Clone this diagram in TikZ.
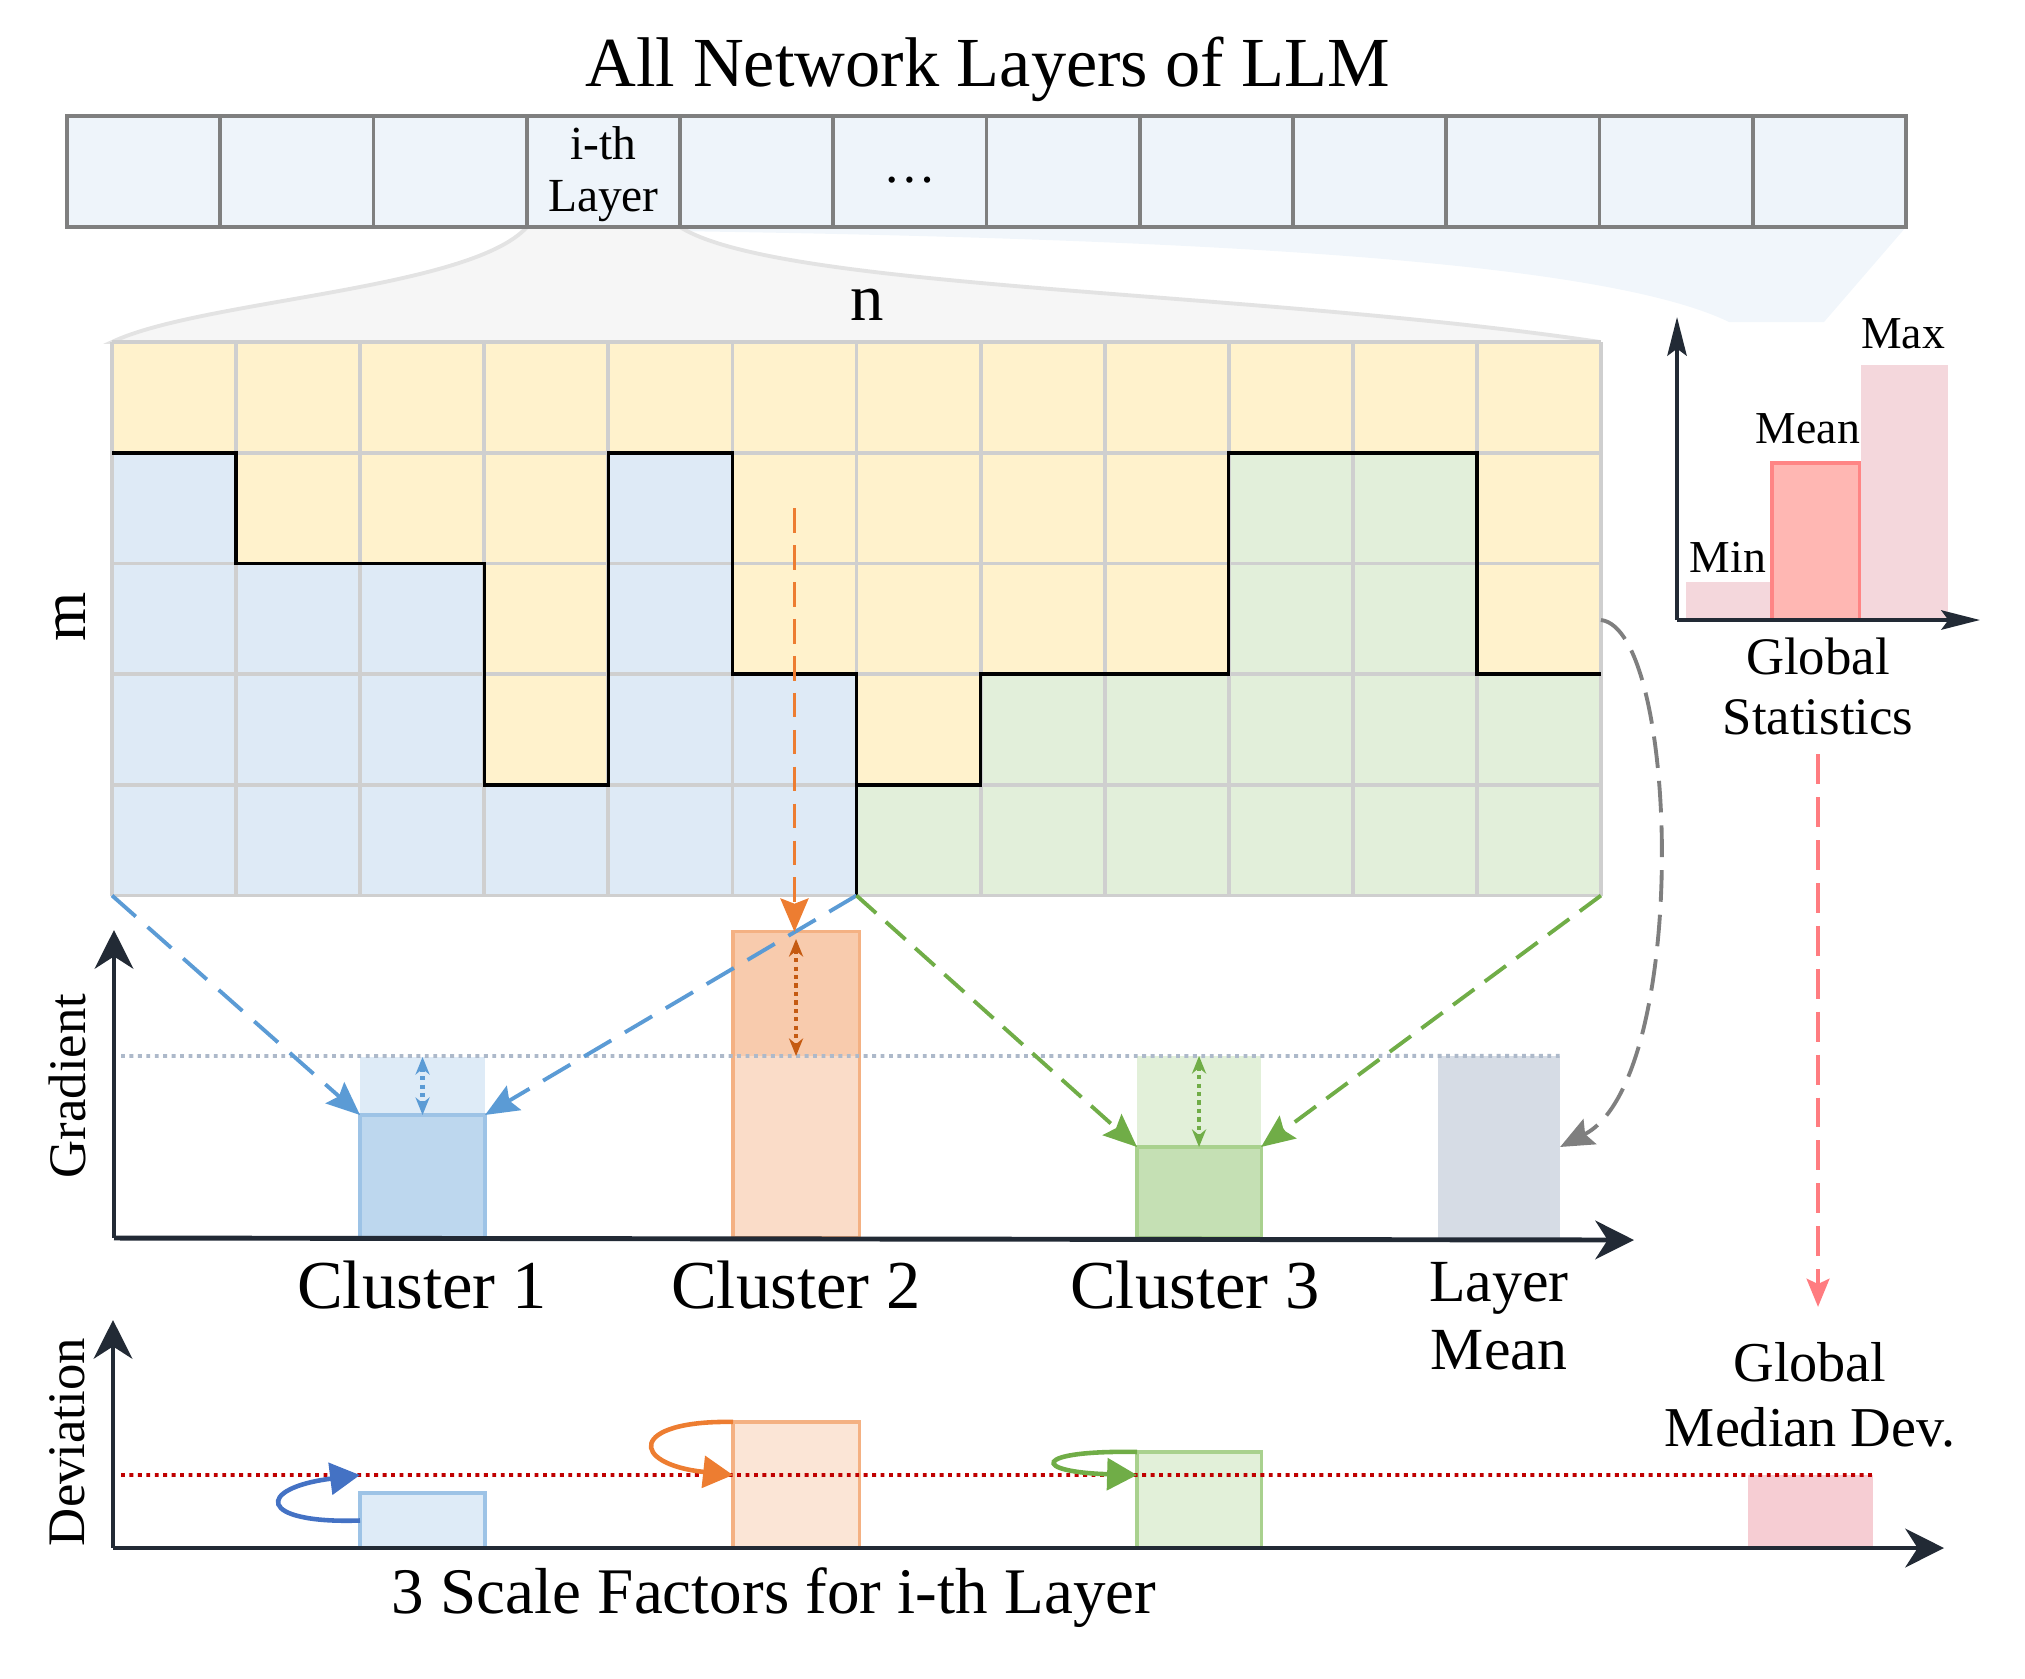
\documentclass[tikz,border=0pt]{standalone}
\usepackage{fontspec}
\setmainfont{Liberation Serif}
\usetikzlibrary{arrows.meta}
\definecolor{layerfill}{HTML}{EEF4FA}
\definecolor{layeredge}{HTML}{7F7F7F}
\definecolor{fanblue}{HTML}{F1F6FB}
\definecolor{fangray}{HTML}{F6F6F6}
\definecolor{fanedge}{HTML}{E3E3E3}
\definecolor{gyellow}{HTML}{FFF2CC}
\definecolor{gblue}{HTML}{DEEAF6}
\definecolor{ggreen}{HTML}{E2EFDA}
\definecolor{gridline}{HTML}{CFCFCF}
\definecolor{axiscol}{HTML}{222A35}
\definecolor{cblue}{HTML}{5B9BD5}
\definecolor{cgreen}{HTML}{70AD47}
\definecolor{corange}{HTML}{ED7D31}
\definecolor{cdarkorange}{HTML}{C55A11}
\definecolor{cgray}{HTML}{7F7F7F}
\definecolor{csalmon}{HTML}{FF7C80}
\definecolor{cloopblue}{HTML}{4472C4}
\definecolor{bluemain}{HTML}{BDD7EE}
\definecolor{blueedge}{HTML}{9DC3E6}
\definecolor{bluelight}{HTML}{DEEBF7}
\definecolor{orangeup}{HTML}{F8CBAD}
\definecolor{orangelow}{HTML}{FADCC8}
\definecolor{orangeedge}{HTML}{F4B183}
\definecolor{orangelight}{HTML}{FBE5D6}
\definecolor{greenmain}{HTML}{C5E0B4}
\definecolor{greenedge}{HTML}{A9D18E}
\definecolor{greenlight}{HTML}{E2F0D9}
\definecolor{meangray}{HTML}{D6DCE5}
\definecolor{dotgray}{HTML}{ADB9CA}
\definecolor{medred}{HTML}{C00000}
\definecolor{pinklight}{HTML}{F4D7DC}
\definecolor{pinkmean}{HTML}{FFB7B3}
\definecolor{pinkedge}{HTML}{FF8585}
\definecolor{pinkdev}{HTML}{F6CDD3}

\begin{document}
\begin{tikzpicture}[x=0.01cm, y=-0.01cm,
   layercell/.style={draw=layeredge, fill=layerfill, line width=1.1pt,
      minimum width=1.5325cm, minimum height=1.11cm, inner sep=0pt,
      outer sep=0pt, anchor=north west},
   colbar/.style={inner sep=0pt, outer sep=0pt, anchor=south west, line width=0.9pt},
   lbl/.style={anchor=base, inner sep=0pt},
   chartaxis/.style={draw=axiscol, line width=1.4pt,
      -{Stealth[length=11pt, width=11pt, inset=3.5pt]}},
   statsaxis/.style={draw=axiscol, line width=1.1pt,
      -{Stealth[length=11pt, width=5.5pt, inset=2pt]}},
   feedarrow/.style={line width=1.1pt, dash pattern=on 9pt off 4.5pt,
      -{Stealth[length=9.5pt, width=8pt, inset=1.5pt]}},
   gaparrow/.style={line width=1.2pt, dash pattern=on 1.2pt off 1.2pt,
      {Stealth[length=5pt, width=4pt]}-{Stealth[length=5pt, width=4pt]}},
   backloop/.style={line width=1.3pt, -{Triangle[length=8.5pt, width=9pt]}},
   medline/.style={line width=1.1pt, dash pattern=on 1.1pt off 1.3pt}]
   \useasboundingbox (0,0) rectangle (2025,1678);

   \fill[fanblue] (67,227) .. controls (900,228) and (1560,240) .. (1729,322) -- (1824,322) -- (1906,227) -- cycle;
   \filldraw[fill=fangray, draw=fanedge, line width=1.1pt] (527,227) .. controls (470,290) and (200,300) .. (112,342)
      -- (1600,342) .. controls (1250,290) and (780,290) .. (680,227) -- cycle;

   \foreach \i in {0,...,11}
      \node[layercell] (L\i) at ({67+153.25*\i},116) {};
   \node[lbl, font=\fontsize{20}{24}\selectfont] (title) at (988,86) {All Network Layers of LLM};
   \node[font=\fontsize{13.5}{14.8}\selectfont, align=center, inner sep=0pt] (ith) at ([yshift=-0.03cm]L3.center) {i-th\\Layer};
   \node[lbl, font=\fontsize{15}{18}\selectfont] (dots) at (910,182) {\ldots};

   \begin{scope}[shift={(1.12cm,-3.42cm)}, x=1.24cm, y=-1.106cm]
      \foreach \c/\k/\col in {0/1/gblue,1/2/gblue,2/2/gblue,3/4/gblue,4/1/gblue,5/3/gblue,
            6/4/ggreen,7/3/ggreen,8/3/ggreen,9/1/ggreen,10/1/ggreen,11/3/ggreen} {
         \fill[gyellow] (\c,0) rectangle (\c+1,\k);
         \fill[\col] (\c,\k) rectangle (\c+1,5);
      }
      \foreach \c in {0,...,12}
         \draw[gridline, line width=1.1pt] (\c,0) -- (\c,5);
      \foreach \r in {0,...,5}
         \draw[gridline, line width=1.1pt] (0,\r) -- (12,\r);
      \draw[line width=1pt] (0,1) -| (1,2) -| (3,4) -| (4,1) -| (5,3) -| (6,4) -| (7,3) -| (9,1) -| (11,3) -- (12,3);
      \draw[line width=1pt] (6,4) -- (6,5);
      \coordinate (g-sw) at (0,5);
      \coordinate (g-s6) at (6,5);
      \coordinate (g-se) at (12,5);
      \coordinate (g-e) at (12,2.51);
      \coordinate (o-start) at (5.5,1.5);
   \end{scope}
   \node[lbl, font=\fontsize{19}{22}\selectfont] (ncols) at (867,320) {n};
   \node[rotate=90, font=\fontsize{18}{22}\selectfont] (mrows) at (71,617) {m};

   \node[colbar, fill=bluelight, minimum width=1.25cm, minimum height=0.58cm] (c1g) at (360,1115) {};
   \node[colbar, fill=bluemain, draw=blueedge, minimum width=1.25cm, minimum height=1.23cm] (c1) at (360,1238) {};
   \node[colbar, fill=orangelow, minimum width=1.26cm, minimum height=3.06cm] (c2) at (733,1238) {};
   \node[colbar, fill=orangeup, minimum width=1.26cm, minimum height=1.24cm] (c2g) at (733,1056) {};
   \draw[orangeedge, line width=0.9pt] (c2.south west) rectangle (c2.north east);
   \node[colbar, fill=greenlight, minimum width=1.24cm, minimum height=0.91cm] (c3g) at (1137,1147) {};
   \node[colbar, fill=greenmain, draw=greenedge, minimum width=1.24cm, minimum height=0.91cm] (c3) at (1137,1238) {};
   \node[colbar, fill=meangray, minimum width=1.22cm, minimum height=1.82cm] (lm) at (1438,1238) {};
   \coordinate (gl-l) at (121,1056);
   \draw[medline, dotgray] (gl-l) -- (lm.north east);
   \draw[gaparrow, cblue] (c1g.north) -- (c1g.south);
   \draw[gaparrow, cdarkorange, shorten <=2pt] (c2g.north) -- (c2g.south);
   \draw[gaparrow, cgreen] (c3g.north) -- (c3g.south);

   \coordinate (go) at (114,1238);
   \coordinate (gy) at (114,930);
   \coordinate (gx) at (1634,1240);
   \draw[chartaxis] (go) -- (gy);
   \draw[chartaxis] (go) -- (gx);

   \draw[feedarrow, cblue] (g-sw) -- (c1.north west);
   \draw[feedarrow, cblue] (g-s6) -- (c1.north east);
   \draw[feedarrow, cgreen, dash pattern=on 7.5pt off 3.7pt] (g-s6) -- (c3.north west);
   \draw[feedarrow, cgreen, dash pattern=on 7.5pt off 3.7pt] (g-se) -- (c3.north east);
   \draw[feedarrow, corange, line width=1pt, dash pattern=on 7pt off 3.5pt] (o-start) -- (o-start |- c2.north);
   \draw[feedarrow, cgray, dash pattern=on 9pt off 3.7pt] (g-e) .. controls (1680,630) and (1690,1080) .. (lm.east);

   \node[rotate=90, font=\fontsize{15}{18}\selectfont] (gradlbl) at (67,1086) {Gradient};
   \node[lbl, font=\fontsize{19.5}{23}\selectfont] (cl1) at (422,1308) {Cluster 1};
   \node[lbl, font=\fontsize{19.5}{23}\selectfont] (cl2) at (796,1308) {Cluster 2};
   \node[lbl, font=\fontsize{19.5}{23}\selectfont] (cl3) at (1195,1308) {Cluster 3};
   \node[font=\fontsize{17}{19.3}\selectfont, align=center, anchor=north, inner sep=0pt] (lmlbl) at (1499,1262) {Layer\\Mean};

   \coordinate (s-o) at (1677,620);
   \coordinate (s-y) at (1677,317);
   \coordinate (s-x) at (1980,620);
   \node[colbar, fill=pinklight, minimum width=0.85cm, minimum height=0.38cm] (smin) at (1686,620) {};
   \node[colbar, fill=pinkmean, draw=pinkedge, minimum width=0.87cm, minimum height=1.57cm] (smean) at (1772,620) {};
   \node[colbar, fill=pinklight, minimum width=0.87cm, minimum height=2.55cm] (smax) at (1861,620) {};
   \draw[statsaxis] (s-o) -- (s-y);
   \draw[statsaxis] (s-o) -- (s-x);
   \node[lbl, font=\fontsize{13}{15}\selectfont] (lmin) at (1728,572) {Min};
   \node[lbl, font=\fontsize{13}{15}\selectfont] (lmean) at (1808,443) {Mean};
   \node[lbl, font=\fontsize{13}{15}\selectfont] (lmax) at (1903,348) {Max};
   \node[font=\fontsize{15}{17}\selectfont, align=center, anchor=north, inner sep=0pt] (gstat) at (1818,637) {Global\\Statistics};
   \node[font=\fontsize{16}{18.5}\selectfont, align=center, anchor=north, inner sep=0pt] (gmd) at (1810,1342) {Global\\Median Dev.};
   \draw[feedarrow, csalmon, line width=1pt, dash pattern=on 8.5pt off 3.7pt,
      -{Stealth[length=8pt, width=6.5pt, inset=1.5pt]}, shorten <=5.4pt, shorten >=10pt] (gstat.south) -- (gstat.south |- gmd.north);

   \node[colbar, fill=bluelight, draw=blueedge, minimum width=1.25cm, minimum height=0.55cm] (d1) at (360,1548) {};
   \node[colbar, fill=orangelight, draw=orangeedge, minimum width=1.26cm, minimum height=1.26cm] (d2) at (733,1548) {};
   \node[colbar, fill=greenlight, draw=greenedge, minimum width=1.24cm, minimum height=0.96cm] (d3) at (1137,1548) {};
   \node[colbar, fill=pinkdev, minimum width=1.25cm, minimum height=0.73cm] (gmdbar) at (1748,1548) {};
   \coordinate (md-l) at (121,1475);
   \draw[medline, medred] (md-l) -- (gmdbar.north east);
   \draw[backloop, cloopblue] (d1.west) .. controls (256,1524) and (256,1488) .. (d1.west |- md-l);
   \draw[backloop, corange] (d2.north west) .. controls (629,1420) and (629,1464) .. (d2.west |- md-l);
   \draw[backloop, cgreen] (d3.north west) .. controls (1031,1450) and (1031,1472) .. (d3.west |- md-l);

   \coordinate (do) at (113,1548);
   \coordinate (dy) at (113,1320);
   \coordinate (dx) at (1944,1548);
   \draw[chartaxis] (do) -- (dy);
   \draw[chartaxis] (do) -- (dx);
   \node[rotate=90, font=\fontsize{15}{18}\selectfont] (devlbl) at (67,1442) {Deviation};
   \node[lbl, font=\fontsize{18.5}{22}\selectfont] (scalelbl) at (774,1613) {3 Scale Factors for i-th Layer};
\end{tikzpicture}
\end{document}
